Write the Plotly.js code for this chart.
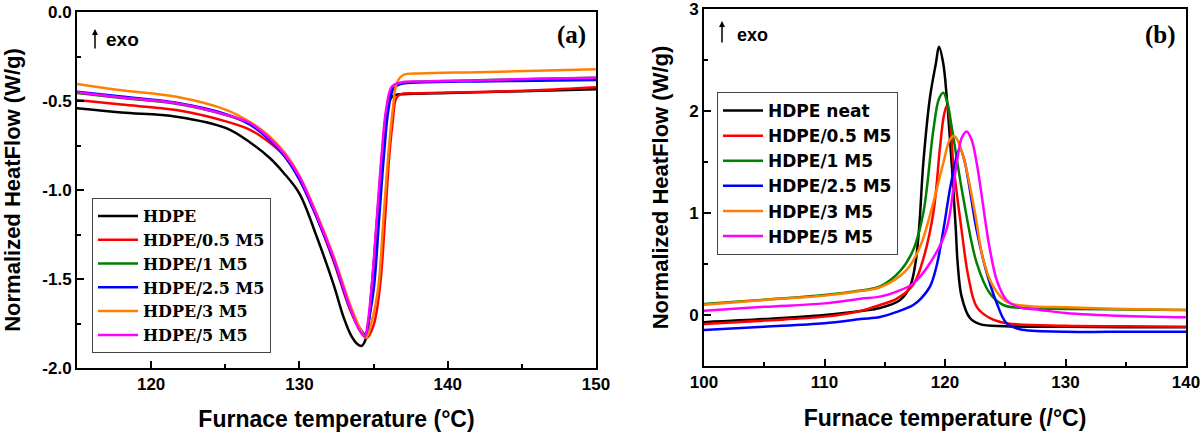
<!DOCTYPE html>
<html>
<head>
<meta charset="utf-8">
<script src="https://cdn.plot.ly/plotly-3.0.1.min.js"></script>
<style>
  html, body { margin: 0; padding: 0; background: #fff; }
  #graph { width: 1200px; height: 432px; }
</style>
</head>
<body>
<div id="graph"></div>
<script>
//series names and colours
var namesA = ['HDPE', 'HDPE/0.5 M5', 'HDPE/1 M5', 'HDPE/2.5 M5', 'HDPE/3 M5', 'HDPE/5 M5'];
var namesB = ['HDPE neat', 'HDPE/0.5 M5', 'HDPE/1 M5', 'HDPE/2.5 M5', 'HDPE/3 M5', 'HDPE/5 M5'];
var colors = ['#000000', '#ff0000', '#008000', '#0000ff', '#ff8000', '#ff00ff'];

//panel (a) - melting, temperature (°C) and heat flow (W/g)
var tA0 = [115, 118, 121.7, 125.1, 126.7, 128, 128.9, 130, 131.2, 132.3, 133, 133.5, 133.9, 134.2, 134.5, 134.9, 135.25, 135.6, 135.9, 136.2, 136.5, 137, 140, 145, 150];
var hA0 = [-0.541, -0.565, -0.588, -0.654, -0.735, -0.82, -0.9, -1.02, -1.27, -1.53, -1.72, -1.82, -1.865, -1.876, -1.83, -1.52, -1.15, -0.78, -0.55, -0.48, -0.466, -0.462, -0.455, -0.445, -0.434];

var tA1 = [115, 118, 121.7, 125.1, 126.7, 128, 129, 130, 131.2, 132.3, 133.4, 134.1, 134.55, 135.0, 135.43, 135.77, 136.07, 136.3, 136.5, 136.8, 138, 142, 146, 150];
var hA1 = [-0.494, -0.52, -0.551, -0.616, -0.663, -0.735, -0.81, -0.94, -1.16, -1.40, -1.67, -1.79, -1.83, -1.76, -1.543, -1.168, -0.794, -0.607, -0.49, -0.463, -0.457, -0.45, -0.44, -0.423];

var tA2 = [115, 118, 121.7, 125.1, 126.7, 128, 129, 130, 131.2, 132.3, 133.4, 134.05, 134.45, 134.7, 134.95, 135.29, 135.63, 135.92, 136.3, 136.8, 138.3, 142, 146, 150];
var hA2 = [-0.455, -0.483, -0.515, -0.58, -0.63, -0.715, -0.8, -0.93, -1.15, -1.385, -1.66, -1.785, -1.82, -1.72, -1.543, -1.168, -0.794, -0.55, -0.425, -0.4, -0.39, -0.384, -0.376, -0.37];

var tA3 = [115, 118, 121.7, 125.1, 126.7, 128, 129, 130, 131.2, 132.3, 133.4, 134.1, 134.45, 134.75, 135.03, 135.37, 135.71, 136.0, 136.35, 136.8, 138.5, 142, 146, 150];
var hA3 = [-0.448, -0.475, -0.51, -0.575, -0.635, -0.72, -0.81, -0.94, -1.16, -1.39, -1.66, -1.78, -1.81, -1.7, -1.543, -1.168, -0.794, -0.55, -0.43, -0.405, -0.395, -0.39, -0.386, -0.382];

var tA4 = [115, 118, 121.7, 125.1, 126.7, 128, 129, 130, 131.2, 132.3, 133.4, 134.1, 134.5, 134.9, 135.32, 135.66, 136.0, 136.29, 136.56, 137.0, 138.1, 142, 146, 150];
var hA4 = [-0.404, -0.44, -0.476, -0.551, -0.62, -0.7, -0.79, -0.92, -1.14, -1.37, -1.64, -1.78, -1.83, -1.73, -1.543, -1.168, -0.794, -0.55, -0.4, -0.354, -0.345, -0.338, -0.33, -0.322];

var tA5 = [115, 118, 121.7, 125.1, 126.7, 128, 129, 130, 131.2, 132.3, 133.4, 134.0, 134.4, 134.6, 134.87, 135.21, 135.55, 135.84, 136.22, 136.78, 138.1, 142, 146, 150];
var hA5 = [-0.451, -0.48, -0.513, -0.579, -0.625, -0.71, -0.8, -0.925, -1.15, -1.38, -1.656, -1.78, -1.824, -1.75, -1.543, -1.168, -0.794, -0.55, -0.42, -0.397, -0.39, -0.385, -0.375, -0.369];

//panel (b) - crystallization
var tB0 = [100, 105, 110, 113, 114.6, 116.27, 117.1, 117.55, 117.85, 118.2, 118.76, 119.25, 119.5, 119.85, 120.14, 120.55, 120.9, 121.05, 121.38, 122.07, 122.9, 125, 130, 135, 140];
var hB0 = [-0.07, -0.04, 0.0, 0.04, 0.068, 0.147, 0.28, 0.51, 0.85, 1.49, 2.14, 2.47, 2.63, 2.47, 2.14, 1.49, 0.83, 0.51, 0.18, -0.03, -0.09, -0.11, -0.115, -0.12, -0.12];

var tB1 = [100, 105, 110, 113, 114.6, 116, 117.37, 118.1, 119.03, 119.59, 119.9, 120.14, 120.4, 120.69, 121.38, 121.93, 122.63, 123.73, 125.1, 130, 135, 140];
var hB1 = [-0.088, -0.055, -0.016, 0.04, 0.098, 0.16, 0.3, 0.51, 1.0, 1.65, 1.95, 2.05, 1.92, 1.49, 0.83, 0.38, 0.08, -0.03, -0.08, -0.105, -0.11, -0.115];

var tB2 = [100, 105, 110, 113, 114.6, 116.27, 117.37, 118.2, 119.03, 119.5, 119.86, 120.2, 120.6, 121.5, 122.63, 123.73, 124.84, 126.2, 130, 135, 140];
var hB2 = [0.108, 0.15, 0.196, 0.24, 0.28, 0.43, 0.64, 1.0, 1.81, 2.12, 2.18, 2.08, 1.81, 1.16, 0.51, 0.21, 0.098, 0.07, 0.06, 0.055, 0.05];

var tB3 = [100, 105, 110, 113, 114.6, 116, 117.37, 118.0, 118.76, 119.3, 119.86, 120.55, 121.24, 121.6, 121.93, 122.63, 123.4, 124.3, 125.1, 126.2, 130, 135, 140];
var hB3 = [-0.147, -0.115, -0.08, -0.04, -0.02, 0.03, 0.098, 0.16, 0.28, 0.48, 0.83, 1.32, 1.63, 1.52, 1.32, 0.83, 0.44, 0.115, -0.08, -0.14, -0.163, -0.165, -0.165];

var tB4 = [100, 105, 110, 113, 114.6, 116.8, 117.93, 118.8, 119.86, 120.4, 120.75, 121.1, 121.66, 122.49, 123.18, 124.0, 125.1, 126.8, 130, 135, 140];
var hB4 = [0.1, 0.148, 0.19, 0.235, 0.27, 0.44, 0.67, 1.0, 1.49, 1.72, 1.755, 1.7, 1.49, 1.0, 0.54, 0.28, 0.13, 0.088, 0.075, 0.06, 0.05];

var tB5 = [100, 105, 110, 113, 114.6, 116, 117.37, 118.76, 120.1, 120.97, 121.4, 121.8, 122.2, 122.63, 123.46, 123.73, 124.3, 125.1, 126.2, 127.9, 130, 135, 140];
var hB5 = [0.042, 0.08, 0.114, 0.16, 0.18, 0.23, 0.31, 0.51, 0.83, 1.49, 1.74, 1.80, 1.72, 1.49, 0.83, 0.64, 0.34, 0.147, 0.075, 0.05, 0.02, -0.01, -0.023];

//tick labels
var xTickValsA = [120, 130, 140, 150];
var yTickValsA = [0, -0.5, -1, -1.5, -2];
var yTickTextA = ['0.0', '-0.5', '-1.0', '-1.5', '-2.0'];
var xTickValsB = [100, 110, 120, 130, 140];
var yTickValsB = [0, 1, 2, 3];

var tempsA = [tA0, tA1, tA2, tA3, tA4, tA5];
var flowsA = [hA0, hA1, hA2, hA3, hA4, hA5];
var tempsB = [tB0, tB1, tB2, tB3, tB4, tB5];
var flowsB = [hB0, hB1, hB2, hB3, hB4, hB5];

var sans = 'Liberation Sans, Arial, sans-serif';
var serif = 'Liberation Serif, Times New Roman, serif';

var data = [];
for (var i = 0; i < 6; i++) {
  data.push({
    x: tempsA[i], y: flowsA[i], name: namesA[i],
    type: 'scatter', mode: 'lines',
    line: {color: colors[i], width: 2.5, shape: 'spline', smoothing: 1},
    xaxis: 'x', yaxis: 'y', legend: 'legend'
  });
}
for (var j = 0; j < 6; j++) {
  data.push({
    x: tempsB[j], y: flowsB[j], name: namesB[j],
    type: 'scatter', mode: 'lines',
    line: {color: colors[j], width: 2.5, shape: 'spline', smoothing: 1},
    xaxis: 'x2', yaxis: 'y2', legend: 'legend2'
  });
}

//shared axis look
function axisStyle(extra) {
  var a = {
    showline: true, mirror: true, linecolor: '#000', linewidth: 2,
    showgrid: false, zeroline: false,
    ticks: 'inside', ticklen: 7, tickwidth: 2, tickcolor: '#000',
    ticklabeloverflow: 'allow',
    tickfont: {family: sans, size: 17, color: '#000', weight: 700}
  };
  for (var k in extra) a[k] = extra[k];
  return a;
}

var minorTicks = function (d) {
  return {ticks: 'inside', ticklen: 4, tickwidth: 2, tickcolor: '#000', tickmode: 'linear', tick0: 0, dtick: d, showgrid: false};
};

var xTitleFont = {family: sans, size: 23, color: '#000', weight: 700};
var yTitleFont = {family: sans, size: 22, color: '#000', weight: 700};

var layout = {
  width: 1200, height: 432,
  margin: {l: 0, r: 0, t: 0, b: 0},
  paper_bgcolor: '#fff', plot_bgcolor: '#fff',
  showlegend: true,
  xaxis: axisStyle({
    domain: [77 / 1200, 596 / 1200], range: [115, 150],
    tickmode: 'array', tickvals: xTickValsA,
    minor: minorTicks(5),
    title: {text: 'Furnace temperature (°C)', font: xTitleFont, standoff: 18},
    anchor: 'y'
  }),
  yaxis: axisStyle({
    domain: [1 - 368 / 432, 1 - 12 / 432], range: [-2, 0],
    tickmode: 'array', tickvals: yTickValsA, ticktext: yTickTextA,
    minor: minorTicks(0.25),
    title: {text: 'Normalized HeatFlow (W/g)', font: yTitleFont, standoff: 18},
    anchor: 'x'
  }),
  xaxis2: axisStyle({
    domain: [704 / 1200, 1186 / 1200], range: [100, 140],
    tickmode: 'array', tickvals: xTickValsB,
    minor: minorTicks(5),
    title: {text: 'Furnace temperature (/°C)', font: xTitleFont, standoff: 18},
    anchor: 'y2'
  }),
  yaxis2: axisStyle({
    domain: [1 - 366 / 432, 1 - 9 / 432], range: [-0.5, 3],
    tickmode: 'array', tickvals: yTickValsB,
    minor: minorTicks(0.5),
    title: {text: 'Normalized HeatFlow (W/g)', font: yTitleFont, standoff: 14},
    anchor: 'x2'
  }),
  legend: {
    x: 92 / 1200, y: 1 - 198 / 432, xanchor: 'left', yanchor: 'top',
    bgcolor: '#fff', bordercolor: '#444', borderwidth: 1,
    font: {family: 'DejaVu Serif, ' + serif, size: 16, color: '#000', weight: 700},
    itemwidth: 40, tracegroupgap: 0
  },
  legend2: {
    x: 717 / 1200, y: 1 - 92 / 432, xanchor: 'left', yanchor: 'top',
    bgcolor: '#fff', bordercolor: '#444', borderwidth: 1,
    font: {family: 'DejaVu Sans, ' + sans, size: 17, color: '#000', weight: 700},
    itemwidth: 40, tracegroupgap: 0
  },
  annotations: [
    //panel labels
    {xref: 'paper', yref: 'paper', x: 571 / 1200, y: 1 - 35 / 432, xanchor: 'center', yanchor: 'middle',
     text: '(a)', showarrow: false, font: {family: serif, size: 25, color: '#000', weight: 700}},
    {xref: 'paper', yref: 'paper', x: 1160 / 1200, y: 1 - 35 / 432, xanchor: 'center', yanchor: 'middle',
     text: '(b)', showarrow: false, font: {family: serif, size: 25, color: '#000', weight: 700}},
    //exo arrows
    {xref: 'paper', yref: 'paper', x: 95 / 1200, y: 1 - 29 / 432, text: '', showarrow: true,
     ax: 0, ay: 21, arrowhead: 2, arrowsize: 0.8, arrowwidth: 1.5, arrowcolor: '#000'},
    {xref: 'paper', yref: 'paper', x: 122 / 1200, y: 1 - 39 / 432, xanchor: 'center', yanchor: 'middle',
     text: 'exo', showarrow: false, font: {family: sans, size: 19, color: '#000', weight: 700}},
    {xref: 'paper', yref: 'paper', x: 722 / 1200, y: 1 - 21 / 432, text: '', showarrow: true,
     ax: 0, ay: 23, arrowhead: 2, arrowsize: 0.8, arrowwidth: 1.5, arrowcolor: '#000'},
    {xref: 'paper', yref: 'paper', x: 753 / 1200, y: 1 - 35 / 432, xanchor: 'center', yanchor: 'middle',
     text: 'exo', showarrow: false, font: {family: sans, size: 18, color: '#000', weight: 700}}
  ]
};

var config = {staticPlot: true};
Plotly.newPlot('graph', data, layout, config);
</script>
</body>
</html>
